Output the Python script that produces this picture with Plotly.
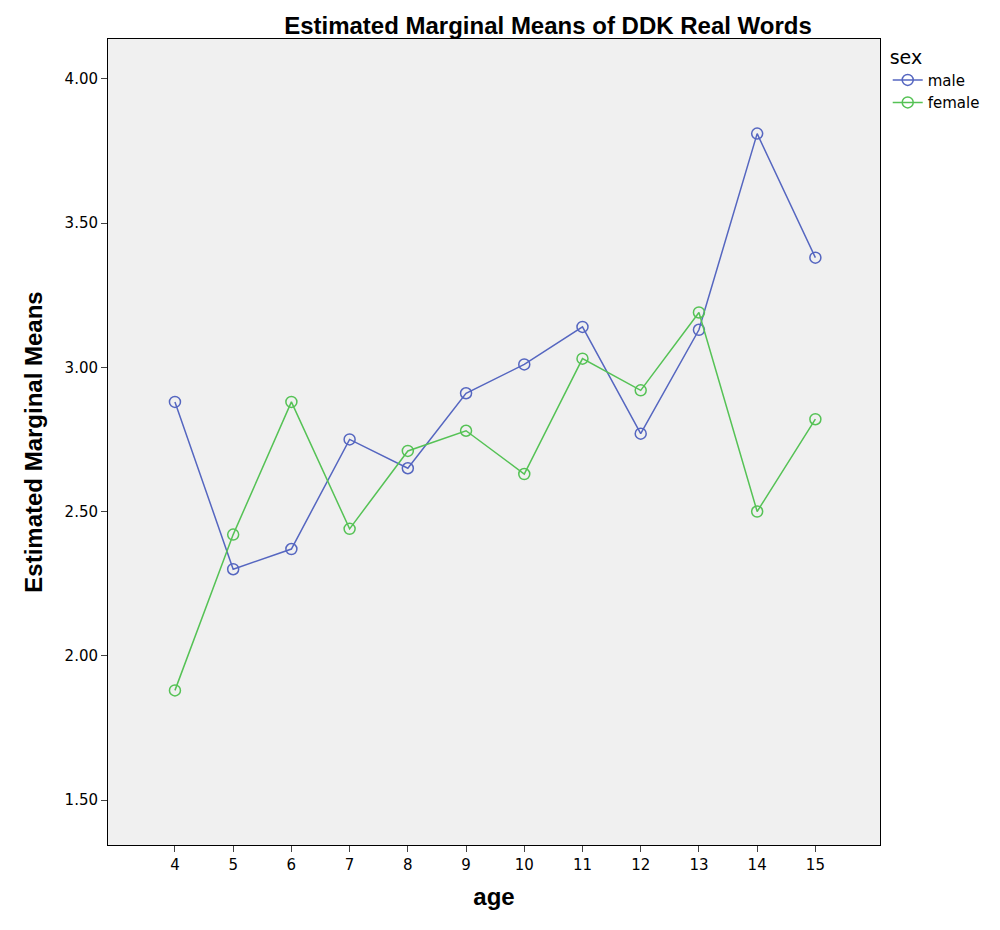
import plotly.graph_objects as go

ages = [4, 5, 6, 7, 8, 9, 10, 11, 12, 13, 14, 15]
male = [2.88, 2.30, 2.37, 2.75, 2.65, 2.91, 3.01, 3.14, 2.77, 3.13, 3.81, 3.38]
female = [1.88, 2.42, 2.88, 2.44, 2.71, 2.78, 2.63, 3.03, 2.92, 3.19, 2.50, 2.82]
ytick_vals = [1.5, 2.0, 2.5, 3.0, 3.5, 4.0]
ytick_text = ["1.50", "2.00", "2.50", "3.00", "3.50", "4.00"]

fig = go.Figure()
for name, vals, col in [("male", male, "#5566c0"), ("female", female, "#55c255")]:
    fig.add_trace(go.Scatter(x=ages, y=vals, name=name, mode="lines+markers",
                             line=dict(color=col, width=1.5),
                             marker=dict(symbol="circle-open", size=11, color=col, line=dict(width=1.5))))

fig.update_layout(
    width=1000, height=930, paper_bgcolor="white", plot_bgcolor="#f0f0f0",
    margin=dict(l=100, r=128, t=31, b=93),
    title=dict(text="<b>Estimated Marginal Means of DDK Real Words</b>", x=0.54, y=0.99,
               font=dict(family="Liberation Sans", size=24, color="black")),
    font=dict(family="DejaVu Sans", color="black", size=15),
    legend=dict(x=1.01, y=1.0, xanchor="left", yanchor="top", title=dict(text="sex", font=dict(size=19)),
                bgcolor="rgba(0,0,0,0)", font=dict(size=15)),
    xaxis=dict(range=[2.85, 16.11], tickvals=ages, showgrid=False, zeroline=False,
               ticks="outside", ticklen=6, mirror=True, showline=True, linecolor="black",
               title=dict(text="<b>age</b>", font=dict(family="Liberation Sans", size=24))),
    yaxis=dict(range=[1.344, 4.138], tickvals=ytick_vals, ticktext=ytick_text, showgrid=False, zeroline=False,
               ticks="outside", ticklen=6, mirror=True, showline=True, linecolor="black",
               title=dict(text="<b>Estimated Marginal Means</b>", font=dict(family="Liberation Sans", size=24))),
)
fig.write_html("out.html")
